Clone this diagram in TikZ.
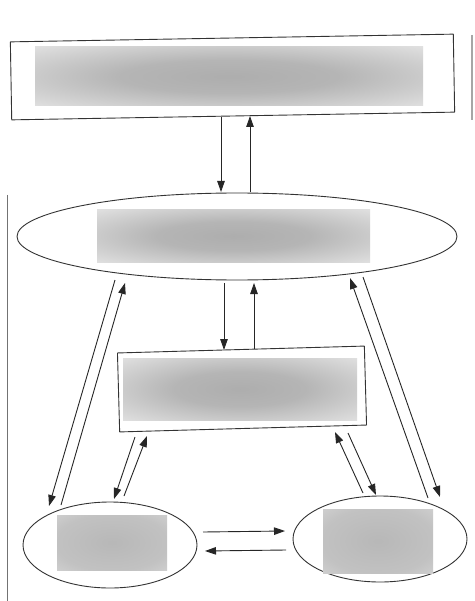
\documentclass[tikz,border=0pt]{standalone}
\usetikzlibrary{arrows.meta,shapes.geometric,calc}
\pgfdeclareradialshading{blurwide}{\pgfpoint{0bp}{0bp}}{color(0bp)=(black!32); color(14bp)=(black!29); color(36bp)=(black!12); color(50bp)=(black!5); color(72bp)=(black!4)}
\pgfdeclareradialshading{blurbox}{\pgfpoint{0bp}{0bp}}{color(0bp)=(black!28); color(26bp)=(black!24); color(50bp)=(black!12); color(72bp)=(black!9)}
\begin{document}
\begin{tikzpicture}[x=1pt,y=-1pt,line join=round,
  frame/.style={draw=black!80,line width=0.9pt,inner sep=0pt,outer sep=0pt,fill=white},
  rectbox/.style={frame,rectangle},
  ellbox/.style={frame,ellipse},
  conn/.style={draw=black!85,line width=0.9pt,-{Triangle[length=11pt,width=7.5pt]}},
  scan/.style={draw=black!55,line width=0.7pt}]
\useasboundingbox (0,0) rectangle (474,601);
\fill[white] (0,0) rectangle (474,601);
% scan edges
\draw[scan] (7,195) -- (7,601);
\draw[scan,draw=black!35,line width=1.5pt] (472,35) -- (472,120);
% shapes
\node[rectbox,minimum width=443pt,minimum height=78pt,rotate=1] (T) at (232.5,77) {};
\node[ellbox,minimum width=440pt,minimum height=87pt] (E) at (237,236.5) {};
\node[rectbox,minimum width=247pt,minimum height=79pt,rotate=1.6] (M) at (242,389) {};
\node[ellbox,minimum width=174pt,minimum height=86pt] (L) at (110,545) {};
\node[ellbox,minimum width=174pt,minimum height=86pt] (R) at (380,539) {};
% blurred (hidden) labels
\shade[shading=blurwide] (35,47) rectangle (423,106);
\shade[shading=blurwide] (97,210) rectangle (370,262);
\shade[shading=blurwide] (123,358) rectangle (357,420);
\shade[shading=blurbox] (57,515) rectangle (167,570);
\shade[shading=blurbox] (323,509) rectangle (433,573);
% connectors
\draw[conn] ($(T)+(-11.5,40)$) -- ($(E)+(-16,-44.5)$);
\draw[conn] ($(E)+(13,-44.5)$) -- ($(T)+(17.5,39)$);
\draw[conn] ($(E)+(-13,46.5)$) -- ($(M)+(-18,-39)$);
\draw[conn] ($(M)+(12,-40)$) -- ($(E)+(17,46.5)$);
\draw[conn] ($(E)+(-122,43.5)$) -- ($(L)+(-61,-39)$);
\draw[conn] ($(L)+(-49,-40)$) -- ($(E)+(-112,46.5)$);
\draw[conn] ($(M)+(-107,48)$) -- ($(L)+(4,-46)$);
\draw[conn] ($(L)+(14,-49)$) -- ($(M)+(-95,47)$);
\draw[conn] ($(R)+(-17,-46)$) -- ($(M)+(93,43)$);
\draw[conn] ($(M)+(106,44)$) -- ($(R)+(-4,-44)$);
\draw[conn] ($(R)+(48,-41)$) -- ($(E)+(113,41.5)$);
\draw[conn] ($(E)+(126,40.5)$) -- ($(R)+(60,-42)$);
\draw[conn] ($(L)+(93,-13)$) -- ($(R)+(-95,-8)$);
\draw[conn] ($(R)+(-94,11)$) -- ($(L)+(95,6)$);
\end{tikzpicture}
\end{document}
